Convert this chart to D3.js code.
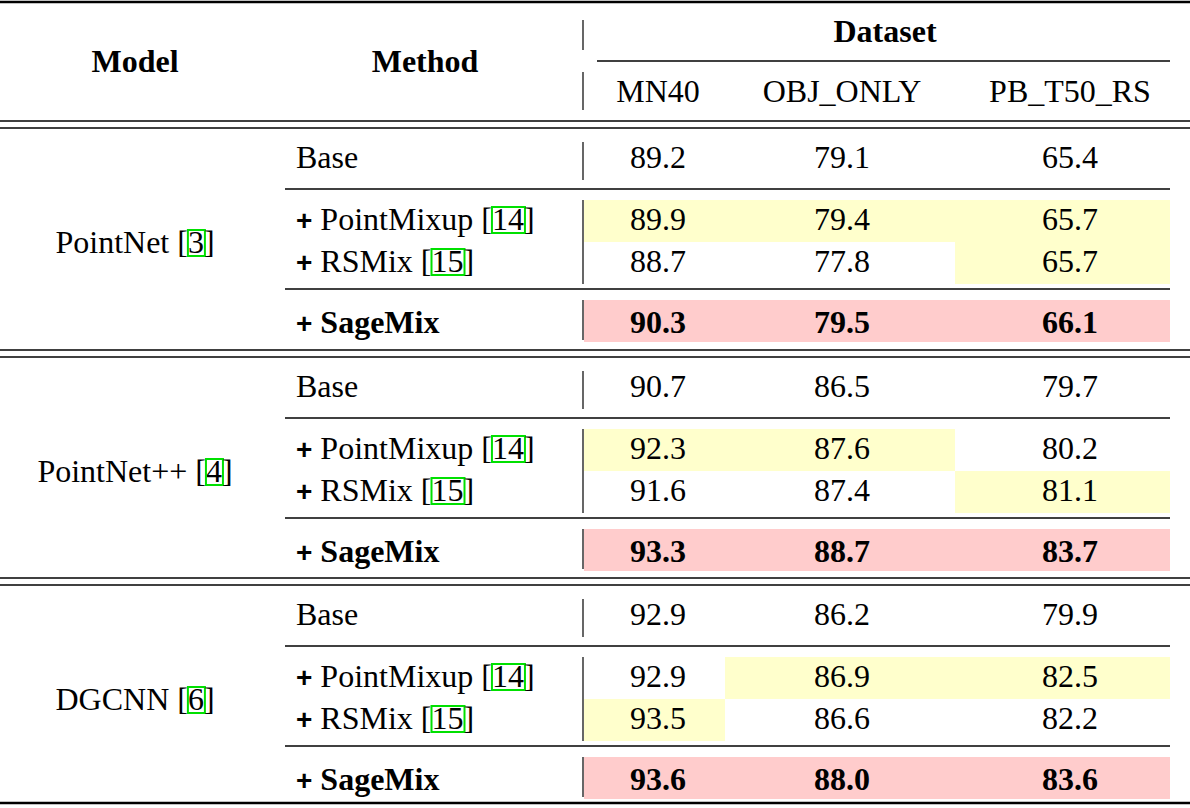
<!DOCTYPE html>
<html><head><meta charset="utf-8">
<script src="https://cdn.jsdelivr.net/npm/d3@7"></script>
<style>body{margin:0;background:#fff} text{white-space:pre}</style></head>
<body><svg id="t" width="1190" height="808"></svg>
<script>
const models = ["PointNet", "PointNet++", "DGCNN"];
const modelCites = ["3", "4", "6"];
const methods = ["Base", "PointMixup", "RSMix", "SageMix"];
const methodCites = [null, "14", "15", null];
const datasets = ["MN40", "OBJ_ONLY", "PB_T50_RS"];
const scores = [
  [[89.2, 79.1, 65.4], [89.9, 79.4, 65.7], [88.7, 77.8, 65.7], [90.3, 79.5, 66.1]],
  [[90.7, 86.5, 79.7], [92.3, 87.6, 80.2], [91.6, 87.4, 81.1], [93.3, 88.7, 83.7]],
  [[92.9, 86.2, 79.9], [92.9, 86.9, 82.5], [93.5, 86.6, 82.2], [93.6, 88.0, 83.6]]
];
// second best (yellow) cells: [model][method][dataset]
const secondBest = [
  [[0,0,0],[1,1,1],[0,0,1]],
  [[0,0,0],[1,1,0],[0,0,1]],
  [[0,0,0],[0,1,1],[1,0,0]]
];

const svg = d3.select("#t");
const font = "'Liberation Serif','Times New Roman',serif";
const fs = 32;
const colEdges = [584, 725, 955, 1170];
const colX = [658, 842, 1070];
const blockTop = [128, 357, 585];
const rowBase = [40, 102, 144, 205];   // text baselines relative to block top
const rowBand = [[0,0],[72,114],[114,156],[172,214]];

function line(x1, y1, x2, y2, w) {
  svg.append("line").attr("x1", x1).attr("y1", y1).attr("x2", x2).attr("y2", y2)
    .attr("stroke", "#000").attr("stroke-width", w || 1.3);
}

function label(x, y, parts, anchor) {
  // parts: [{t, bold, sans, cite}]
  const g = svg.append("g");
  let cx = 0;
  parts.forEach(p => {
    const tx = g.append("text").attr("x", cx).attr("y", 0)
      .attr("font-family", p.sans ? "'Liberation Sans',Arial,sans-serif" : font)
      .attr("font-size", p.sans ? 28 : fs)
      .attr("font-weight", p.bold ? "bold" : "normal")
      .text(p.t);
    const w = tx.node().getComputedTextLength();
    if (p.cite) {
      g.append("rect").attr("x", cx).attr("y", -23).attr("width", w + 1).attr("height", 26)
        .attr("fill", "none").attr("stroke", "#00e000").attr("stroke-width", 2);
    }
    cx += w + (p.gap || 0);
  });
  const shift = anchor === "middle" ? -cx / 2 : 0;
  g.attr("transform", `translate(${x + shift},${y})`);
}

function text(x, y, s, bold) {
  svg.append("text").attr("x", x).attr("y", y).attr("text-anchor", "middle")
    .attr("font-family", font).attr("font-size", fs)
    .attr("font-weight", bold ? "bold" : "normal").text(s);
}

// header
line(0, 2, 1190, 2, 2.5);
text(135, 72, "Model", true);
text(425, 72, "Method", true);
text(885, 42, "Dataset", true);
line(597, 61, 1170, 61);
datasets.forEach((d, i) => text(colX[i], 102, d));
line(583, 20, 583, 50, 1.2);
line(583, 72, 583, 110, 1.2);

models.forEach((m, mi) => {
  const top = blockTop[mi];
  line(0, top - 7, 1190, top - 7, 1.5);
  line(0, top, 1190, top, 1.5);
  methods.forEach((me, ri) => {
    const [b0, b1] = rowBand[ri];
    if (ri === 3) {
      svg.append("rect").attr("x", colEdges[0]).attr("y", top + b0).attr("width", colEdges[3] - colEdges[0])
        .attr("height", b1 - b0).attr("fill", "#ffcccc");
    } else {
      datasets.forEach((d, di) => {
        if (secondBest[mi][ri][di]) {
          svg.append("rect").attr("x", colEdges[di]).attr("y", top + b0)
            .attr("width", colEdges[di + 1] - colEdges[di]).attr("height", b1 - b0).attr("fill", "#ffffcc");
        }
      });
    }
  });
  label(135, top + 125, [{t: m + " ["}, {t: modelCites[mi], cite: true}, {t: "]"}], "middle");
  methods.forEach((me, ri) => {
    const y = top + rowBase[ri];
    const plus = {t: "+", sans: true, bold: true, gap: 8};
    if (ri === 0) label(296, y, [{t: me}]);
    else if (ri === 3) label(296, y, [plus, {t: me, bold: true}]);
    else label(296, y, [plus, {t: me + " ["}, {t: methodCites[ri], cite: true}, {t: "]"}]);
    scores[mi][ri].forEach((v, di) => text(colX[di], y, v.toFixed(1), ri === 3));
  });
  line(583, top + 14, 583, top + 52, 1.2);
  line(583, top + 72, 583, top + 156, 1.2);
  line(583, top + 172, 583, top + 212, 1.2);
  line(285, top + 61, 1170, top + 61);
  line(285, top + 161, 1170, top + 161);
});
line(0, 803, 1190, 803, 2.5);
</script></body></html>
